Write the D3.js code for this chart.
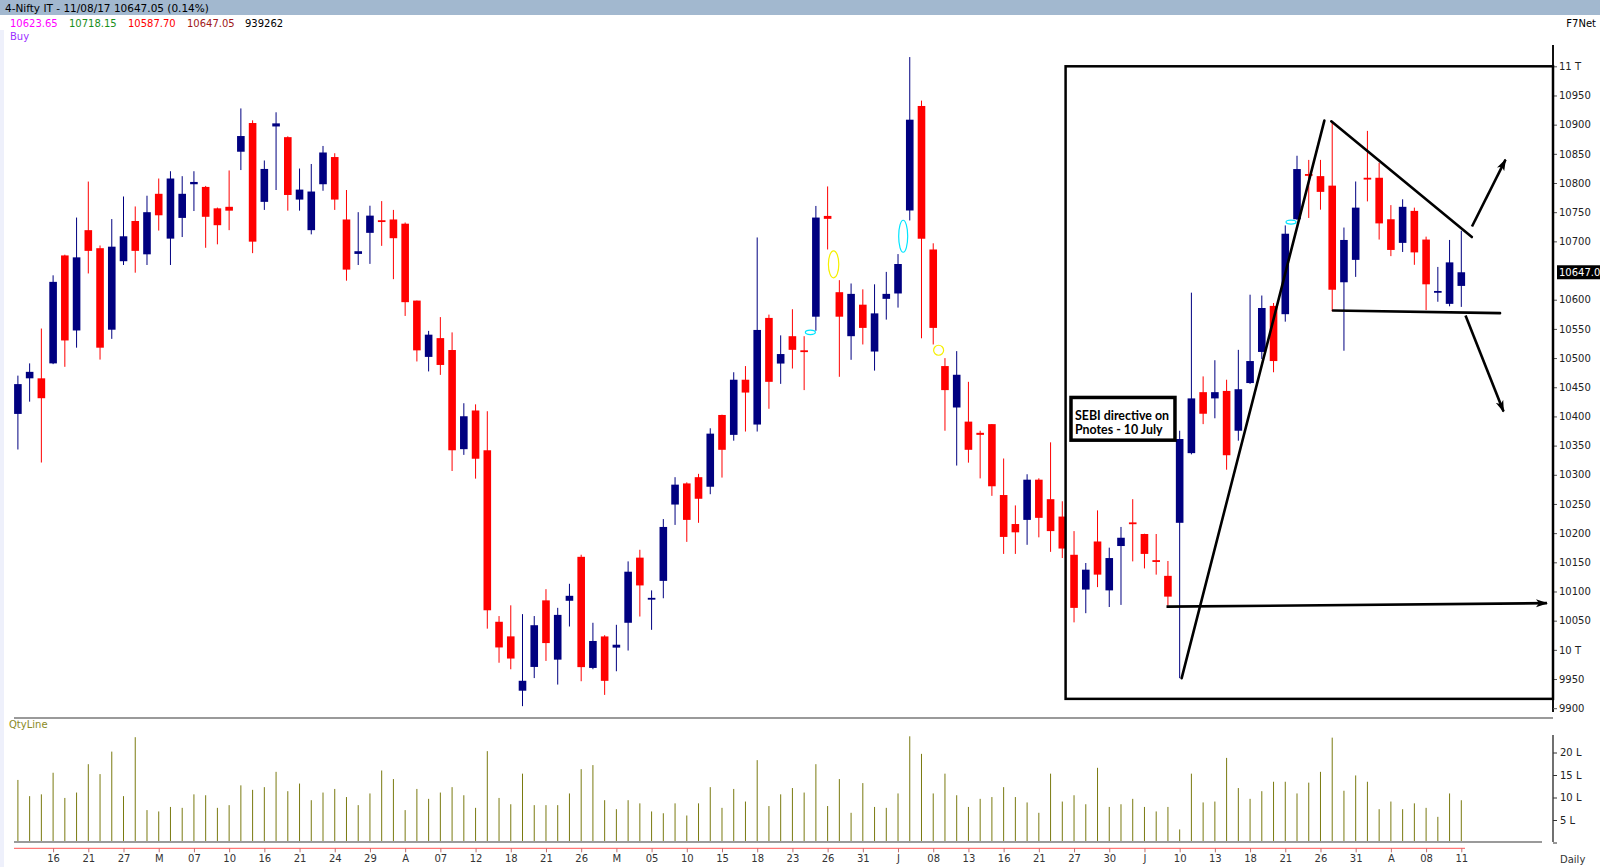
<!DOCTYPE html>
<html>
<head>
<meta charset="utf-8">
<script src="https://cdn.jsdelivr.net/npm/d3@7"></script>
<style>
  html, body { margin: 0; padding: 0; background: #ffffff; }
  svg { display: block; font-family: "DejaVu Sans", Verdana, sans-serif; }
</style>
</head>
<body>
<svg id="chart" width="1600" height="867"></svg>
<script>
// ---------------- DATA ----------------
const opens = [
10404.3,10465.3,10465.3,10490.9,10675.9,10547.3,10719.2,10688.3,10548.6,10666.0,
10734.9,10677.8,10781.5,10704.7,10740.2,10797.9,10793.3,10756.6,10759.2,10853.6,
10902.8,10767.7,10896.9,10878.6,10771.6,10719.2,10797.9,10844.5,10737.5,10678.5,
10714.6,10736.2,10737.5,10730.3,10598.5,10502.0,10534.2,10513.8,10343.9,10410.2,
10342.0,10048.1,10023.1,9930.0,9970.7,10084.8,9983.2,10084.1,10159.4,9969.0,
10023.0,10003.8,10046.4,10158.0,10087.7,10118.2,10249.0,10285.2,10295.9,10279.5,
10402.5,10368.4,10462.9,10386.1,10568.8,10490.6,10537.5,10513.3,10570.9,10743.6,
10612.9,10537.5,10591.5,10511.2,10601.5,10610.7,10752.9,10932.0,10686.1,10486.3,
10415.3,10391.1,10371.9,10386.8,10265.3,10215.6,10222.7,10291.6,10258.2,10228.4,
10162.9,10103.3,10185.7,10101.9,10177.9,10218.4,10198.5,10153.7,10126.8,10217.7,
10337.1,10441.6,10430.9,10443.7,10375.5,10457.2,10510.5,10589.4,10575.2,10737.9,
10815.4,10811.8,10795.5,10629.9,10668.3,10809.0,10809.0,10737.9,10697.4,10752.2,
10703.1,10612.1,10592.9,10623.65
];
const highs = [
10469.9,10490.9,10550.6,10641.8,10677.2,10740.8,10802.5,10692.9,10738.2,10776.9,
10759.8,10778.2,10807.7,10820.2,10811.7,10820.2,10795.0,10757.9,10821.5,10927.8,
10907.4,10838.6,10921.2,10880.0,10824.8,10832.6,10863.5,10851.0,10788.0,10750.0,
10761.1,10769.0,10753.9,10732.3,10598.5,10546.6,10570.2,10544.0,10422.6,10420.7,
10408.9,10057.9,10076.3,10061.2,10057.9,10104.0,10072.0,10113.2,10163.0,10046.4,
10025.1,10042.9,10151.6,10171.5,10101.9,10224.1,10295.9,10287.0,10301.6,10379.7,
10403.0,10475.7,10486.3,10706.7,10574.5,10538.9,10583.7,10537.5,10760.7,10794.1,
10633.5,10627.8,10617.8,10626.4,10647.7,10678.2,11015.8,10941.2,10696.7,10499.9,
10511.9,10459.3,10375.5,10387.0,10327.9,10247.5,10300.9,10294.0,10355.6,10254.6,
10203.5,10148.8,10239.0,10175.1,10210.6,10258.2,10199.0,10198.5,10152.3,10375.5,
10612.1,10468.6,10496.3,10462.9,10514.1,10608.6,10607.2,10594.4,10727.3,10846.7,
10839.6,10839.6,10905.7,10723.7,10802.6,10889.3,10834.6,10762.1,10772.1,10757.8,
10708.1,10656.2,10702.4,10718.15
];
const lows = [
10343.3,10425.3,10321.0,10489.6,10485.0,10517.8,10645.0,10497.4,10532.9,10659.5,
10646.3,10659.5,10718.5,10659.5,10707.4,10752.0,10689.0,10694.9,10719.2,10822.2,
10679.8,10753.9,10788.0,10752.6,10752.6,10712.0,10786.7,10753.9,10632.6,10659.5,
10661.4,10692.3,10635.2,10572.2,10494.2,10477.1,10471.2,10306.5,10334.1,10293.4,
10036.3,9977.9,9966.7,9903.5,9951.6,9981.0,9940.5,10040.0,9946.2,9966.8,
9922.8,9963.3,9998.8,10057.1,10034.3,10088.4,10214.1,10185.0,10217.7,10266.7,
10295.2,10358.4,10374.1,10374.1,10413.1,10455.8,10482.1,10445.1,10546.8,10686.1,
10467.9,10497.0,10523.3,10478.5,10565.9,10586.5,10735.8,10533.9,10523.3,10375.5,
10315.8,10320.8,10293.8,10263.9,10164.4,10164.4,10180.0,10192.8,10167.9,10157.3,
10047.1,10062.8,10107.5,10073.4,10077.0,10151.6,10139.5,10128.9,10075.6,9951.5,
10335.0,10386.8,10396.8,10308.7,10358.4,10455.8,10498.4,10475.7,10562.4,10736.5,
10740.1,10754.3,10580.1,10512.6,10639.1,10768.5,10703.1,10674.7,10681.8,10659.8,
10582.3,10596.5,10588.7,10587.70
];
const closes = [
10455.4,10476.4,10431.2,10630.6,10530.2,10672.6,10683.7,10517.8,10690.9,10708.7,
10683.7,10750.0,10744.7,10807.7,10781.5,10801.8,10742.1,10727.7,10752.6,10880.5,
10699.5,10824.1,10902.2,10779.5,10788.7,10785.4,10852.3,10771.6,10651.6,10683.1,
10744.1,10733.6,10705.4,10595.8,10513.2,10540.1,10488.2,10342.0,10400.3,10327.5,
10067.8,10004.1,9985.1,9947.0,10042.2,10011.6,10059.9,10092.6,9970.4,10015.2,
9946.9,10008.8,10133.9,10110.4,10089.1,10210.6,10283.1,10222.7,10258.9,10370.5,
10342.8,10462.9,10440.9,10548.2,10459.3,10506.9,10514.1,10511.9,10740.8,10738.6,
10570.9,10610.0,10551.7,10576.6,10610.0,10661.2,10908.5,10704.5,10551.7,10445.1,
10471.4,10342.8,10368.4,10280.3,10193.5,10201.4,10291.6,10226.2,10203.5,10173.6,
10071.9,10137.4,10128.9,10157.3,10192.1,10216.3,10164.4,10151.6,10091.2,10361.3,
10430.9,10404.6,10441.6,10333.5,10446.6,10494.9,10585.8,10494.9,10713.1,10823.9,
10813.3,10784.8,10617.1,10702.4,10757.8,10806.2,10730.8,10685.3,10759.2,10681.1,
10626.4,10615.0,10664.0,10647.05
];
// traded quantity, in lakh (1 L = 100,000)
const volumes = [
13.9,10.3,10.7,15.5,9.9,11.1,17.4,15.2,20.2,10.3,
23.4,7.2,6.9,7.9,7.7,10.7,10.5,7.7,8.3,12.7,
11.7,12.3,15.7,11.4,13.1,9.4,11.1,11.9,10.1,8.3,
10.9,16.0,14.1,7.2,11.9,9.7,11.1,12.3,10.5,7.7,
20.3,9.9,8.5,15.3,8.3,8.3,8.3,10.9,16.3,17.2,
9.4,7.4,9.4,8.7,6.9,6.5,8.7,6.0,8.7,12.3,
7.7,11.9,9.1,18.3,8.1,10.7,12.1,11.1,17.4,8.1,
14.1,6.6,13.2,7.9,7.7,10.9,23.6,19.7,10.9,15.3,
10.5,7.9,9.7,10.1,12.3,10.1,8.9,6.6,15.3,9.1,
10.5,8.5,16.6,7.9,8.5,9.7,7.9,6.9,7.9,2.9,
15.3,8.9,9.1,18.8,12.1,9.7,11.4,13.5,13.5,10.9,
13.3,15.7,23.3,11.5,14.9,13.5,7.4,9.1,7.4,8.7,
7.7,5.7,10.9,9.39
];
// date labels under every third session, starting with the 4th
const tickLabels = ["16","21","27","M","07","10","16","21","24","29","A","07","12","18","21",
  "26","M","05","10","15","18","23","26","31","J","08","13","16","21","27","30","J","10","13",
  "18","21","26","31","A","08","11"];
// 10650 is hidden behind the last-price tag in the reference
const priceTicks = [9900,9950,10000,10050,10100,10150,10200,10250,10300,10350,10400,10450,
  10500,10550,10600,10700,10750,10800,10850,10900,10950,11000];
const volumeTicks = [0,5,10,15,20];
const headerTitle = "4-Nifty IT - 11/08/17 10647.05 (0.14%)";
const headerValues = ["10623.65","10718.15","10587.70","10647.05","939262"];
const lastPrice = 10647.05;
const noteLines = ["SEBI directive on","Pnotes - 10 July"];
// hand-drawn annotations, in (session index, price) units
const noteBox = {i0: 89.74, i1: 98.6, p0: 10432.5, p1: 10359.3};
const frameBox = {i0: 89.28, p0: 11000, p1: 9916};
const trendLines = [
  {a: [99.17, 9951.5],  b: [111.33, 10907.0]},
  {a: [111.92, 10905.7], b: [123.9, 10707.4]},
  {a: [112.07, 10581.4], b: [126.3, 10577.0]}
];
const arrows = [
  {a: [123.91, 10725.4], b: [126.77, 10840.2]},
  {a: [123.36, 10572.8], b: [126.6, 10408.3]},
  {a: [97.88, 10074.0],  b: [130.3, 10080.0]}
];
const markers = [
  {i: 67.53, p: 10544.1, rx: 5, ry: 2.2, color: "#00e5ff"},
  {i: 69.51, p: 10660.6, rx: 5.2, ry: 13.5, color: "#f5f000"},
  {i: 75.44, p: 10708.8, rx: 4.5, ry: 16, color: "#00e5ff"},
  {i: 78.46, p: 10513.4, rx: 5, ry: 5, color: "#f5f000"},
  {i: 108.49, p: 10733.1, rx: 5, ry: 2, color: "#00e5ff"}
];

// ---------------- CHART ----------------
const svg = d3.select("#chart");
const W = 1600, H = 867;
const UP = "#000080", DOWN = "#ff0000";
const axisX = 1553;

const candles = opens.map((o, i) => ({i, o, h: highs[i], l: lows[i], c: closes[i], v: volumes[i]}));

const x = d3.scalePoint().domain(d3.range(candles.length)).range([17.9, 1461.3]);
const xi = idx => x(0) + idx * x.step();
const y = d3.scaleLinear().domain([9900, 11000]).range([708.2, 66.3]);
const yv = d3.scaleLinear().domain([0, 24]).range([842.5, 734.5]);

// left window edge strip
svg.append("rect").attr("x", 0).attr("y", 30).attr("width", 4).attr("height", H - 30).attr("fill", "#eef0fb");

// header
svg.append("rect").attr("x", 0).attr("y", 0).attr("width", W).attr("height", 15).attr("fill", "#a2b8cf");
svg.append("text").attr("x", 5).attr("y", 11.5).attr("font-size", 10.5).attr("fill", "#000").text(headerTitle);
const headerColors = ["#ff00ff", "#1a8f1a", "#ff0000", "#a01818", "#000000"];
const headerX = [10, 69, 128, 187, 245];
svg.append("g").selectAll("text").data(headerValues).join("text")
  .attr("x", (d, k) => headerX[k]).attr("y", 26.5).attr("font-size", 10)
  .attr("fill", (d, k) => headerColors[k]).text(d => d);
svg.append("text").attr("x", 10).attr("y", 40).attr("font-size", 10).attr("fill", "#9b30ff").text("Buy");
svg.append("text").attr("x", 1596).attr("y", 26.5).attr("font-size", 10).attr("text-anchor", "end").attr("fill", "#000").text("F7Net");

// price panel separators
svg.append("line").attr("x1", 14).attr("x2", axisX).attr("y1", 718).attr("y2", 718)
  .attr("stroke", "#9a9a9a").attr("stroke-width", 2);

// candles
const cg = svg.append("g");
cg.selectAll("line.wick").data(candles).join("line").attr("class", "wick")
  .attr("x1", d => x(d.i)).attr("x2", d => x(d.i))
  .attr("y1", d => y(d.h)).attr("y2", d => y(d.l))
  .attr("stroke", d => d.c >= d.o ? UP : DOWN).attr("stroke-width", 1);
const bodyW = 7.6;
cg.selectAll("rect.body").data(candles).join("rect").attr("class", "body")
  .attr("x", d => x(d.i) - bodyW / 2).attr("width", bodyW)
  .attr("y", d => y(Math.max(d.o, d.c)))
  .attr("height", d => Math.max(1.8, Math.abs(y(d.o) - y(d.c))))
  .attr("fill", d => d.c >= d.o ? UP : DOWN);

// indicator ellipses
svg.append("g").selectAll("ellipse").data(markers).join("ellipse")
  .attr("cx", d => xi(d.i)).attr("cy", d => y(d.p)).attr("rx", d => d.rx).attr("ry", d => d.ry)
  .attr("fill", "none").attr("stroke", d => d.color).attr("stroke-width", 1.2);

// price axis
svg.append("line").attr("x1", axisX).attr("x2", axisX).attr("y1", 45).attr("y2", 712)
  .attr("stroke", "#111").attr("stroke-width", 2);
const yAxis = d3.axisRight(y).tickValues(priceTicks).tickSize(4).tickPadding(2)
  .tickFormat(v => v % 1000 === 0 ? (v / 1000) + " T" : String(v));
svg.append("g").attr("transform", `translate(${axisX},0)`).call(yAxis)
  .call(g => g.select(".domain").remove())
  .call(g => g.selectAll(".tick line").attr("stroke", "#555"))
  .call(g => g.selectAll("text").attr("font-size", 10).attr("fill", "#222")
    .attr("font-family", "DejaVu Sans, Verdana, sans-serif"));
// last price tag
const lp = svg.append("g").attr("transform", `translate(1557,${y(lastPrice)})`);
lp.append("rect").attr("x", 0).attr("y", -7).attr("width", 48).attr("height", 14).attr("fill", "#000");
lp.append("text").attr("x", 2).attr("y", 3.8).attr("font-size", 10).attr("fill", "#fff").text(lastPrice.toFixed(1));

// annotations: frame, note box, trend lines, arrows
svg.append("rect").attr("x", xi(frameBox.i0)).attr("y", y(frameBox.p0))
  .attr("width", axisX - xi(frameBox.i0)).attr("height", y(frameBox.p1) - y(frameBox.p0))
  .attr("fill", "none").attr("stroke", "#000").attr("stroke-width", 2.5);

svg.append("g").selectAll("line").data(trendLines).join("line")
  .attr("x1", d => xi(d.a[0])).attr("y1", d => y(d.a[1]))
  .attr("x2", d => xi(d.b[0])).attr("y2", d => y(d.b[1]))
  .attr("stroke", "#000").attr("stroke-width", 2.6).attr("stroke-linecap", "round");

const defs = svg.append("defs");
defs.append("marker").attr("id", "ah").attr("viewBox", "0 0 12 10").attr("refX", 11).attr("refY", 5)
  .attr("markerWidth", 12).attr("markerHeight", 10).attr("markerUnits", "userSpaceOnUse")
  .attr("orient", "auto")
  .append("path").attr("d", "M0,1 L12,5 L0,9 L3,5 Z").attr("fill", "#000");
svg.append("g").selectAll("line").data(arrows).join("line")
  .attr("x1", d => xi(d.a[0])).attr("y1", d => y(d.a[1]))
  .attr("x2", d => xi(d.b[0])).attr("y2", d => y(d.b[1]))
  .attr("stroke", "#000").attr("stroke-width", 2.6).attr("marker-end", "url(#ah)");

svg.append("rect").attr("x", xi(noteBox.i0)).attr("y", y(noteBox.p0))
  .attr("width", xi(noteBox.i1) - xi(noteBox.i0)).attr("height", y(noteBox.p1) - y(noteBox.p0))
  .attr("fill", "#fff").attr("stroke", "#000").attr("stroke-width", 3.5);
svg.append("g").selectAll("text").data(noteLines).join("text")
  .attr("x", xi(noteBox.i0) + 4).attr("y", (d, k) => y(noteBox.p0) + 22.5 + k * 14.5)
  .attr("font-family", "Lato, 'Open Sans', sans-serif").attr("font-weight", "bold")
  .attr("font-size", 12.4).attr("fill", "#000").text(d => d);

// volume panel
svg.append("text").attr("x", 9).attr("y", 728).attr("font-size", 10).attr("fill", "#8a8a1e").text("QtyLine");
svg.append("g").selectAll("line").data(candles).join("line")
  .attr("x1", d => x(d.i)).attr("x2", d => x(d.i))
  .attr("y1", yv(0)).attr("y2", d => yv(d.v))
  .attr("stroke", "#7a7a10").attr("stroke-width", 1);
svg.append("line").attr("x1", 14).attr("x2", 1542).attr("y1", 842).attr("y2", 842)
  .attr("stroke", "#9a9a9a").attr("stroke-width", 2);
// volume axis
svg.append("line").attr("x1", axisX).attr("x2", axisX).attr("y1", 735).attr("y2", 842)
  .attr("stroke", "#111").attr("stroke-width", 1.2);
const vAxis = d3.axisRight(yv).tickValues(volumeTicks).tickSize(4).tickPadding(3)
  .tickFormat(v => v === 0 ? "" : v + " L");
svg.append("g").attr("transform", `translate(${axisX},0)`).call(vAxis)
  .call(g => g.select(".domain").remove())
  .call(g => g.selectAll(".tick line").attr("stroke", "#333"))
  .call(g => g.selectAll("text").attr("font-size", 10).attr("fill", "#222")
    .attr("font-family", "DejaVu Sans, Verdana, sans-serif"));

// time axis
svg.append("line").attr("x1", 14).attr("x2", 1465).attr("y1", 848.3).attr("y2", 848.3)
  .attr("stroke", "#ff5555").attr("stroke-width", 1);
const labelIdx = tickLabels.map((t, k) => 3 + 3 * k);
const xAxis = d3.axisBottom(x).tickValues(labelIdx).tickSize(4).tickPadding(3)
  .tickFormat(i => tickLabels[(i - 3) / 3]);
svg.append("g").attr("transform", "translate(0,848.3)").call(xAxis)
  .call(g => g.select(".domain").remove())
  .call(g => g.selectAll(".tick line").attr("stroke", "#c07070"))
  .call(g => g.selectAll("text").attr("font-size", 10).attr("fill", "#333")
    .attr("font-family", "DejaVu Sans, Verdana, sans-serif"));
svg.append("text").attr("x", 1560).attr("y", 863).attr("font-size", 10).attr("fill", "#333").text("Daily");
</script>
</body>
</html>
